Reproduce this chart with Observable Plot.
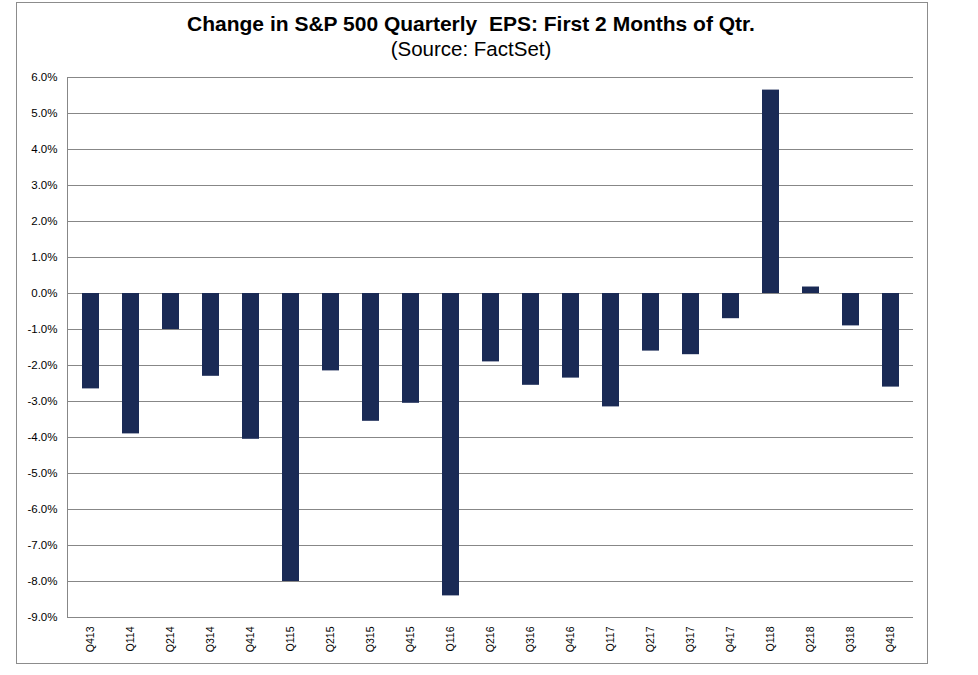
<!DOCTYPE html>
<html>
<head>
<meta charset="utf-8">
<script src="https://cdn.jsdelivr.net/npm/d3@7"></script>
<script src="https://cdn.jsdelivr.net/npm/@observablehq/plot@0.6"></script>
<style>
  html, body { margin: 0; padding: 0; background: #fff; }
  #wrap { position: relative; width: 978px; height: 675px; font-family: "Liberation Sans", Arial, sans-serif; }
  #border { position: absolute; left: 16px; top: 2px; width: 910px; height: 660px; border: 1px solid #8c8c8c; box-sizing: content-box; }
  #title { position: absolute; left: 0; width: 942px; top: 12px; line-height: 24px; text-align: center; font-weight: bold; font-size: 21px; color: #000; white-space: pre; }
  #subtitle { position: absolute; left: 0; width: 942px; top: 37px; line-height: 24px; text-align: center; font-size: 20.5px; color: #000; white-space: pre; }
  #chart { position: absolute; left: 0; top: 0; }
</style>
</head>
<body>
<div id="wrap">
  <div id="border"></div>
  <div id="title">Change in S&amp;P 500 Quarterly  EPS: First 2 Months of Qtr.</div>
  <div id="subtitle">(Source: FactSet)</div>
  <div id="chart"></div>
</div>
<script>
const quarters = ["Q413","Q114","Q214","Q314","Q414","Q115","Q215","Q315","Q415","Q116","Q216","Q316","Q416","Q117","Q217","Q317","Q417","Q118","Q218","Q318","Q418"];
const changes = [-2.65,-3.9,-1.0,-2.3,-4.05,-8.0,-2.15,-3.55,-3.05,-8.4,-1.9,-2.55,-2.35,-3.15,-1.6,-1.7,-0.7,5.65,0.18,-0.9,-2.6];
const yTicks = [6,5,4,3,2,1,0,-1,-2,-3,-4,-5,-6,-7,-8,-9];

const data = quarters.map((q, i) => ({q, v: changes[i]}));

const chart = Plot.plot({
  width: 978,
  height: 675,
  marginTop: 77,
  marginBottom: 58,
  marginLeft: 67,
  marginRight: 65,
  style: { fontFamily: "'Liberation Sans', Arial, sans-serif", background: "transparent", color: "#000" },
  x: { domain: quarters, paddingInner: 0.58, paddingOuter: 0.29, label: null },
  y: { domain: [-9, 6], label: null },
  marks: [
    Plot.ruleY(yTicks, { stroke: "#878787", strokeWidth: 1, strokeOpacity: 1 }),
    Plot.frame({ anchor: "left", stroke: "#878787", strokeOpacity: 1 }),
    Plot.barY(data, { x: "q", y: "v", fill: "#1a2a55" }),
    Plot.axisY(yTicks, { tickSize: 0, tickPadding: 10, tickFormat: d => d.toFixed(1) + "%", fontSize: 11.5, label: null }),
    Plot.axisX({ tickSize: 0, tickPadding: 9, tickRotate: -90, fontSize: 10.5, label: null })
  ]
});
document.getElementById("chart").appendChild(chart);
</script>
</body>
</html>
